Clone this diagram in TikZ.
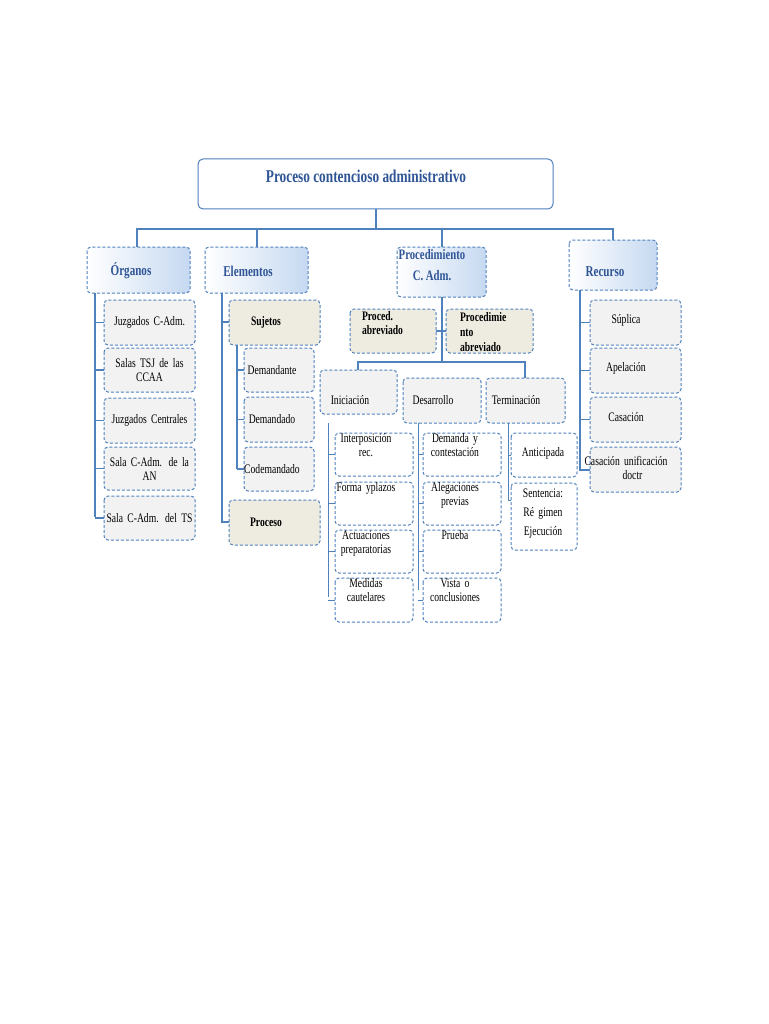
\documentclass[tikz,border=0pt]{standalone}
\usepackage{fontspec}
\setmainfont[FakeStretch=0.74]{Liberation Serif}
\begin{document}
\definecolor{ln}{HTML}{4F81BD}
\definecolor{tb}{HTML}{2F5597}
\definecolor{hb}{HTML}{C6D9F1}
\definecolor{bg}{HTML}{EEECE1}
\definecolor{gy}{HTML}{F2F2F2}
\begin{tikzpicture}[x=1pt,y=-1pt,
 conn/.style={draw=ln,line width=1.2pt},
 bx/.style={draw=ln,densely dashed,rounded corners=4pt,line width=1pt},
 hdr/.style={bx,left color=white,right color=hb},
 bei/.style={bx,fill=bg},
 gry/.style={bx,fill=gy},
 wht/.style={bx,fill=white},
 tx/.style={font=\fontsize{13}{14}\selectfont,align=center,text width=90pt},
 ht/.style={font=\bfseries\fontsize{15}{16}\selectfont,text=tb,align=center},
 bt/.style={font=\bfseries\fontsize{13}{13.5}\selectfont,align=left}]
\fill[white] (0,0) rectangle (768,1024);
\newcommand{\bxx}[6]{\draw[#1] (#2,#3) rectangle (#4,#5) node[midway] (#6) {};}
% title
\draw[draw=ln,line width=1pt,rounded corners=5pt,fill=white] (198,159) rectangle (553,209);
\node[ht,font=\bfseries\fontsize{18}{19}\selectfont] (title) at (366,176) {Proceso contencioso administrativo};
% top bus
\draw[conn] (376,209) -- (376,229);
\draw[conn] (137,247) -- (137,229) -- (613,229) -- (613,240);
\draw[conn] (257,229) -- (257,247);
\draw[conn] (442,229) -- (442,247);
% headers
\bxx{hdr}{87}{247}{190}{293}{org}
\node[ht] at (131,271) {Órganos};
\bxx{hdr}{205}{247}{308}{293}{ele}
\node[ht] at (248,271) {Elementos};
\bxx{hdr}{397}{247}{486}{297}{pro}
\node[ht,font=\bfseries\fontsize{14.5}{21}\selectfont] at (432,265) {Procedimiento\\C. Adm.};
\bxx{hdr}{569}{240}{657}{290}{rec}
\node[ht] at (605,272) {Recurso};
% Organos
\draw[conn] (95,293) -- (95,517);
\foreach \a/\b/\t in {300/345/{Juzgados C-Adm.},348/392/{Salas TSJ de las\\CCAA},398/443/{Juzgados Centrales},447/490/{Sala C-Adm. de la\\AN},496/540/{Sala C-Adm. del TS}}{
 \draw[conn] (95,{(\a+\b)/2}) -- (104,{(\a+\b)/2});
 \draw[gry] (104,\a) rectangle (195,\b);
 \node[tx] at (149.5,{(\a+\b)/2}) {\t};}
% Elementos
\draw[conn] (222,293) -- (222,522) -- (229,522);
\draw[conn] (222,322) -- (229,322);
\bxx{bei}{229}{300}{320}{345}{suj}
\node[bt] at (266,322) {Sujetos};
\bxx{bei}{229}{500}{320}{545}{prc}
\node[bt] at (266,522) {Proceso};
\draw[conn] (237,345) -- (237,469);
\foreach \a/\b/\t in {348/392/{Demandante},397/442/{Demandado},447/491/{Codemandado}}{
 \draw[conn] (237,{(\a+\b)/2}) -- (244,{(\a+\b)/2});
 \draw[gry] (244,\a) rectangle (314,\b);
 \node[tx] at (272,{(\a+\b)/2}) {\t};}
% Procedimiento
\draw[conn] (442,297) -- (442,362);
\draw[conn] (436,331) -- (446,331);
\bxx{bei}{350}{309}{436}{353}{pab}
\node[bt,text width=60pt] at (392,323) {Proced.\\abreviado};
\bxx{bei}{446}{309}{533}{353}{pab2}
\node[bt,text width=60pt,font=\bfseries\fontsize{13}{15}\selectfont] at (490,332) {Procedimie\\nto\\abreviado};
\draw[conn] (358,370) -- (358,362) -- (525,362) -- (525,378);
\bxx{gry}{320}{370}{397}{414}{ini}
\node[tx] at (350,400) {Iniciación};
\bxx{gry}{403}{378}{481}{423}{des}
\node[tx] at (433,400) {Desarrollo};
\bxx{gry}{486}{378}{565}{423}{ter}
\node[tx] at (516,400) {Terminación};
\draw[conn,line width=0.7pt] (328,423) -- (328,597);
\draw[conn,line width=0.7pt] (418,423) -- (418,590);
\draw[conn,line width=0.7pt] (508,423) -- (508,500);
\foreach \a/\b/\t/\u in {433/476/{Interposición\\rec.}/{Demanda y\\contestación},482/525/{Forma yplazos}/{Alegaciones\\previas},530/573/{Actuaciones\\preparatorias}/{Prueba},578/622/{Medidas\\cautelares}/{Vista o\\conclusiones}}{
 \draw[conn,line width=0.7pt] (328,{(\a+\b)/2}) -- (335,{(\a+\b)/2});
 \draw[wht] (335,\a) rectangle (413,\b);
 \node[tx,anchor=north] at (366,\a-3) {\t};
 \draw[conn,line width=0.7pt] (418,{(\a+\b)/2}) -- (423,{(\a+\b)/2});
 \draw[wht] (423,\a) rectangle (501,\b);
 \node[tx,anchor=north] at (455,\a-3) {\u};}
\draw[conn,line width=0.7pt] (508,455) -- (511,455);
\draw[conn,line width=0.7pt] (508,500) -- (511,500);
\bxx{wht}{511}{433}{577}{477}{ant}
\node[tx] at (543,453) {Anticipada};
\bxx{wht}{511}{483}{577}{550}{sen}
\node[tx,font=\fontsize{13}{19}\selectfont] at (543,514) {Sentencia:\\Ré gimen\\Ejecución};
% Recurso
\draw[conn] (580,290) -- (580,470) -- (590,470);
\foreach \a/\b/\t in {300/345/{Súplica},348/393/{Apelación},397/442/{Casación},447/492/{Casación unificación\\\quad doctr}}{
 \draw[conn] (580,{(\a+\b)/2}) -- (590,{(\a+\b)/2});
 \draw[gry] (590,\a) rectangle (681,\b);
 \node[tx,text width=100pt] at (626,{(\a+\b)/2-2}) {\t};}
\end{tikzpicture}
\end{document}
